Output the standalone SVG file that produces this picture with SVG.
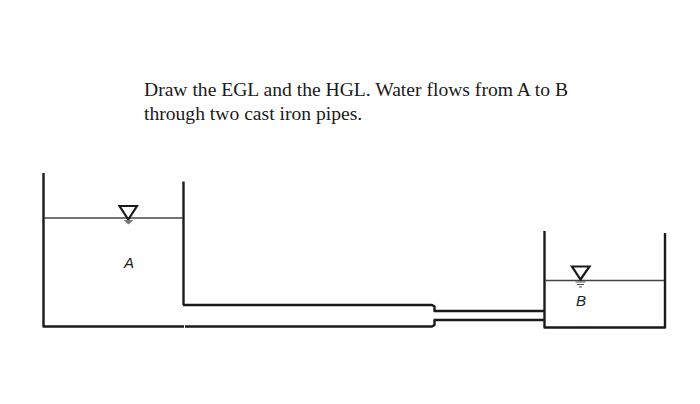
<svg xmlns="http://www.w3.org/2000/svg" width="700" height="404" viewBox="0 0 700 404">
<style>
.w{fill:none;stroke:#1a1a1a;stroke-width:2.4;stroke-linejoin:round}
.s{fill:none;stroke:#444;stroke-width:1.5}
.t{fill:none;stroke:#1a1a1a;stroke-width:2.2}
.g{stroke:#555;stroke-width:1.1}
.h{font-family:"Liberation Serif",serif;font-size:19.6px;fill:#1a1a1a}
.l{font-family:"Liberation Sans",sans-serif;font-size:15px;font-style:italic;fill:#222;text-anchor:middle}
</style>
<rect width="700" height="404" fill="#fff"/>
<g id="question">
<text class="h" x="144" y="96">Draw the EGL and the HGL. Water flows from A to B</text>
<text class="h" x="144" y="120">through two cast iron pipes.</text>
</g>
<g id="tank-a">
<path class="w" d="M43.500 173V326.500H184"/>
<path class="w" d="M183.500 181.500V305"/>
<path class="s" d="M44 218H183"/>
<path class="t" d="M119.500 206H137L128.300 219.500Z"/>
<path d="M123.500 220H133.500L128.500 224.500Z" fill="#777"/>
<text class="l" x="129" y="267.500">A</text>
</g>
<g id="tank-b">
<path class="w" d="M544.500 231V320"/>
<path class="w" d="M544.500 320V327.500H665V233"/>
<path class="s" d="M545 280.500H664"/>
<path class="t" d="M572 266.500H589.500L580.500 279.500Z"/>
<path class="g" d="M575.500 282H585.500M577 284.500H584M579 287H582"/>
<text class="l" x="581" y="306">B</text>
</g>
<g id="connectors">
<path class="w" d="M183 305H432L434.500 306.500V311H544"/>
<path class="w" d="M185 326.500H432L434.500 325V320H544"/>
</g>
</svg>
